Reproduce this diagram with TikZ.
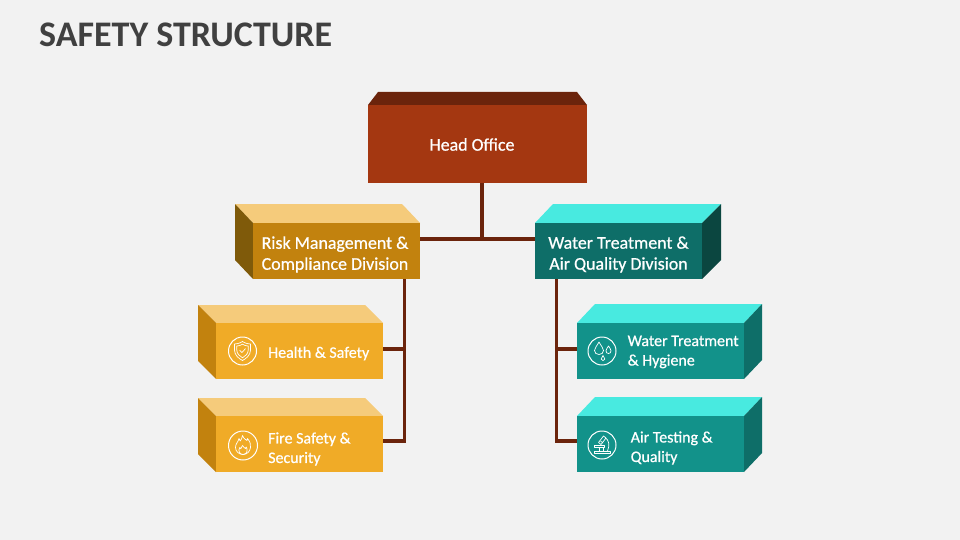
\documentclass[tikz,border=0pt]{standalone}
\usepackage{fontspec}
\setmainfont{Carlito}
\definecolor{bg}{HTML}{F2F2F2}
\definecolor{titlec}{HTML}{404040}
\definecolor{linec}{HTML}{6B240C}
\definecolor{headf}{HTML}{A43711}
\definecolor{headt}{HTML}{6B240C}
\definecolor{riskf}{HTML}{C2820E}
\definecolor{riskt}{HTML}{F5CB7B}
\definecolor{risks}{HTML}{7F5A0A}
\definecolor{watf}{HTML}{0E6E68}
\definecolor{watt}{HTML}{48EAE0}
\definecolor{wats}{HTML}{0B4640}
\definecolor{ambf}{HTML}{F0AB27}
\definecolor{teaf}{HTML}{12928A}
\tikzset{
  x=1pt,y=-1pt,
  face/.style={inner sep=0pt,outer sep=0pt,minimum height=56pt,minimum width=167pt,anchor=north west},
  label/.style={text=white,inner sep=0pt,font=\fontsize{16}{19.5}\selectfont\addfontfeature{FakeBold=0.7},align=left},
  blabel/.style={text=white,inner sep=0pt,font=\fontsize{17.9}{21}\selectfont\addfontfeature{FakeBold=0.7},align=center},
  conn/.style={draw=linec,line width=3.5pt},
  icon/.style={draw=white,line width=1pt,fill=none,line join=round},
  iconthin/.style={draw=white,line width=.7pt,fill=none,line join=round},
}
\begin{document}
\begin{tikzpicture}
\useasboundingbox[fill=bg] (0,0) rectangle (960,540);
\node[anchor=west,inner sep=0pt,text=titlec,font=\fontsize{36}{40}\selectfont\bfseries] (title) at (39,35) {SAFETY STRUCTURE};

% connector junctions
\coordinate (hj) at (482,183);
\coordinate (hm) at (482,239);
\coordinate (lt) at (404.5,279);
\coordinate (lm) at (404.5,349);
\coordinate (lb) at (404.5,441);
\coordinate (rt) at (556.5,279);
\coordinate (rm) at (556.5,349);
\coordinate (rb) at (556.5,441);

% head
\fill[headt] (368,105) -- (378,92) -- (577,92) -- (587,105) -- cycle;
\node[face,fill=headf,minimum width=219pt,minimum height=78pt] (head) at (368,105) {};
\node[blabel] (headt) at (472,144.5) {Head Office};

% risk
\fill[riskt] (253,223) -- (235,204) -- (402,204) -- (420,223) -- cycle;
\fill[risks] (253,223) -- (235,204) -- (235,260) -- (253,279) -- cycle;
\node[face,fill=riskf] (risk) at (253,223) {};
\node[blabel] (riskl) at (335,254.5) {Risk Management \&\\Compliance Division};

% water
\fill[watt] (535,223) -- (553,204) -- (721,204) -- (702,223) -- cycle;
\fill[wats] (702,223) -- (721,204) -- (721,260) -- (702,279) -- cycle;
\node[face,fill=watf] (water) at (535,223) {};
\node[blabel] (waterl) at (618.5,254.5) {Water Treatment \&\\Air Quality Division};

% health
\fill[riskt] (216,323) -- (198,305) -- (365,305) -- (383,323) -- cycle;
\fill[riskf] (216,323) -- (198,305) -- (198,361) -- (216,379) -- cycle;
\node[face,fill=ambf] (health) at (216,323) {};
\node[label,anchor=west] (healthl) at (268,353.5) {Health \& Safety};

% fire
\fill[riskt] (216,416) -- (198,398) -- (365,398) -- (383,416) -- cycle;
\fill[riskf] (216,416) -- (198,398) -- (198,454) -- (216,472) -- cycle;
\node[face,fill=ambf] (fire) at (216,416) {};
\node[label,anchor=west] (firel) at (268,449) {Fire Safety \&\\Security};

% water treatment
\fill[watt] (577,323) -- (595,304) -- (762,304) -- (744,323) -- cycle;
\fill[watf] (744,323) -- (762,304) -- (762,360) -- (744,379) -- cycle;
\node[face,fill=teaf] (wt) at (577,323) {};
\node[label,anchor=west] (wtl) at (627.5,352) {Water Treatment\\\& Hygiene};

% air
\fill[watt] (577,416) -- (595,397) -- (762,397) -- (744,416) -- cycle;
\fill[watf] (744,416) -- (762,397) -- (762,453) -- (744,472) -- cycle;
\node[face,fill=teaf] (air) at (577,416) {};
\node[label,anchor=west] (airl) at (630.5,448) {Air Testing \&\\Quality};

% connectors
\draw[conn] (hj) -- (hm);
\draw[conn] (risk.east |- hm) -- (water.west |- hm);
\draw[conn] (lt) -- (lb) -- (fire.east |- lb);
\draw[conn] (lm) -- (health.east |- lm);
\draw[conn] (rt) -- (rb) -- (air.west |- rb);
\draw[conn] (rm) -- (wt.west |- rm);

% icon: shield
\begin{scope}[shift={(242.5,351)}]
\draw[icon] (0,0) circle (14);
\draw[iconthin] (0,-9.5) .. controls (3,-7.5) and (6,-7) .. (8,-7) -- (8,-1) .. controls (8,4) and (4,7.5) .. (0,9.5) .. controls (-4,7.5) and (-8,4) .. (-8,-1) -- (-8,-7) .. controls (-6,-7) and (-3,-7.5) .. (0,-9.5) -- cycle;
\draw[iconthin] (0,-6.8) .. controls (2,-5.5) and (4,-5) .. (5.7,-5) -- (5.7,-1) .. controls (5.7,2.5) and (3,5.3) .. (0,6.8) .. controls (-3,5.3) and (-5.7,2.5) .. (-5.7,-1) -- (-5.7,-5) .. controls (-4,-5) and (-2,-5.5) .. (0,-6.8) -- cycle;
\draw[iconthin] (-2.8,-0.8) -- (-0.6,1.6) -- (3,-2.4);
\end{scope}

% icon: flame
\begin{scope}[shift={(243,445.5)}]
\draw[icon] (0,0) circle (14.5);
\draw[iconthin] (-0.5,-10) .. controls (1,-6) and (3,-6) .. (4,-5) .. controls (4.5,-6) and (4.5,-6.5) .. (4.5,-7) .. controls (7,-4) and (8,-1) .. (7.5,2) .. controls (7,6) and (4,9) .. (0,9) .. controls (-4,9) and (-7.5,6) .. (-7.5,2) .. controls (-7.5,-2) and (-5,-3) .. (-4,-7) .. controls (-3.5,-6) and (-3,-5) .. (-2.8,-4.5) .. controls (-1.5,-6) and (-0.8,-8) .. (-0.5,-10) -- cycle;
\draw[iconthin] (-0.5,0) .. controls (0,2) and (2,2) .. (2.5,3) .. controls (3.2,2.8) and (3.3,2.2) .. (3.2,1.5) .. controls (5,3.5) and (4.5,9) .. (0,9) .. controls (-4,9) and (-5,4.5) .. (-3.2,2) .. controls (-2.8,2.5) and (-2.6,3) .. (-2.2,3.2) .. controls (-1.5,2.5) and (-1,1) .. (-0.5,0) -- cycle;
\end{scope}

% icon: drops
\begin{scope}[shift={(602,351)}]
\draw[icon] (0,0) circle (14);
\draw[iconthin] (-3,-9) .. controls (-1,-5) and (1.5,-3) .. (1.5,-0.5) .. controls (1.5,2) and (-0.5,3.5) .. (-3,3.5) .. controls (-5.5,3.5) and (-7.5,2) .. (-7.5,-0.5) .. controls (-7.5,-3) and (-5,-5) .. (-3,-9) -- cycle;
\draw[iconthin] (6.5,-5) .. controls (7.5,-3) and (9,-2) .. (9,-0.2) .. controls (9,1.5) and (8,2.5) .. (6.5,2.5) .. controls (5,2.5) and (4,1.5) .. (4,-0.2) .. controls (4,-2) and (5.5,-3) .. (6.5,-5) -- cycle;
\draw[iconthin] (1,4.5) .. controls (1.6,6) and (2.8,6.5) .. (2.8,8) .. controls (2.8,9) and (2,9.7) .. (1,9.7) .. controls (0,9.7) and (-0.8,9) .. (-0.8,8) .. controls (-0.8,6.5) and (0.4,6) .. (1,4.5) -- cycle;
\end{scope}

% icon: microscope
\begin{scope}[shift={(602,445)}]
\draw[icon] (0,0) circle (14);
\draw[iconthin] (-7.5,8) -- (8,8) -- (8,6) -- (-7.5,6) -- cycle;
\draw[iconthin] (-7.5,0.5) -- (2,0.5) -- (2,2.5) -- (-7.5,2.5) -- cycle;
\draw[iconthin] (-2.5,2.5) -- (-2.5,6) (1,2.5) -- (1,6);
\draw[iconthin] (3,-7.5) .. controls (7,-5) and (8,0) .. (5.5,6);
\draw[iconthin] (-3.5,-2.5) -- (1.5,-9) -- (4,-7) -- (-1,-0.5) -- cycle;
\draw[iconthin] (-1.5,-4) -- (1,-2);
\end{scope}
\end{tikzpicture}
\end{document}
